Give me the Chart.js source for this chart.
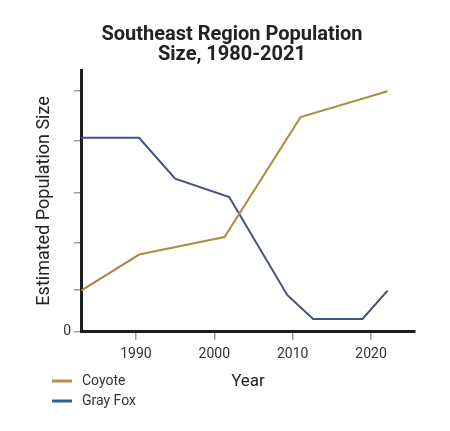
<!DOCTYPE html>
<html lang="en">
<head>
    <meta charset="UTF-8">
    <title>Southeast Region Population Size</title>
    <style>
        body {
            margin: 0;
            background: #fff;
        }
        #chart-box {
            width: 450px;
            height: 431px;
        }
    </style>
</head>
<body>
    <div id="chart-box">
        <canvas id="population-chart" width="450" height="431"></canvas>
    </div>

    <script src="https://cdn.jsdelivr.net/npm/chart.js"></script>
    <script>
        // values (y in arbitrary units, axis 0-100)
        const coyoteYears = [1983, 1990.4, 2001.3, 2011, 2022.1];
        const coyoteValues = [15.7, 29.5, 36.2, 82, 91.9];
        const foxYears = [1983, 1990.4, 1995, 2001.9, 2009.3, 2012.6, 2018.9, 2022.1];
        const foxValues = [74.1, 74.1, 58.5, 51.5, 14.1, 4.9, 4.9, 15.7];

        const xTickValues = [1990, 2000, 2010, 2020];
        const yTickValues = [0, 16, 34, 53, 73, 92];

        const seriesNames = ['Coyote', 'Gray Fox'];
        const lineColors = ['#a8913c', '#47517f'];
        const legendColors = ['#b98a4b', '#2c5e9e'];

        const toPoints = (xs, ys) => xs.map((x, i) => ({ x: x, y: ys[i] }));

        // simple stacked legend in the lower left corner
        const sideLegend = {
            id: 'sideLegend',
            afterDraw(chart) {
                const ctx = chart.ctx;
                ctx.save();
                ctx.font = '14px Roboto';
                ctx.textBaseline = 'middle';
                chart.data.datasets.forEach((ds, i) => {
                    const y = 381 + i * 20;
                    ctx.strokeStyle = legendColors[i];
                    ctx.lineWidth = 3;
                    ctx.beginPath();
                    ctx.moveTo(52, y);
                    ctx.lineTo(72, y);
                    ctx.stroke();
                    ctx.fillStyle = '#333';
                    ctx.fillText(ds.label, 82, y);
                });
                ctx.restore();
            }
        };

        const chart = new Chart(document.getElementById('population-chart'), {
            type: 'line',
            data: {
                datasets: [
                    {
                        label: seriesNames[0],
                        data: toPoints(coyoteYears, coyoteValues),
                        borderColor: lineColors[0],
                        segment: {
                            borderColor: c => c.p0DataIndex === 0 ? '#a97f3d' : undefined
                        }
                    },
                    {
                        label: seriesNames[1],
                        data: toPoints(foxYears, foxValues),
                        borderColor: lineColors[1]
                    }
                ]
            },
            options: {
                responsive: false,
                animation: false,
                devicePixelRatio: 1,
                elements: {
                    line: { borderWidth: 2, tension: 0 },
                    point: { radius: 0 }
                },
                layout: {
                    padding: { top: 25, left: 49, right: 35, bottom: 39 }
                },
                plugins: {
                    legend: { display: false },
                    tooltip: { enabled: false },
                    title: {
                        display: true,
                        text: ['Southeast Region Population', 'Size, 1980-2021'],
                        color: '#222',
                        font: { family: 'Roboto', size: 20, weight: 'bold', lineHeight: 1.0 },
                        padding: { top: 0, bottom: 5 }
                    }
                },
                scales: {
                    x: {
                        type: 'linear',
                        min: 1983,
                        max: 2025.6,
                        afterBuildTicks: s => { s.ticks = xTickValues.map(v => ({ value: v })); },
                        ticks: {
                            color: '#333',
                            font: { family: 'Roboto', size: 14 },
                            padding: 6,
                            maxRotation: 0,
                            callback: v => String(v)
                        },
                        grid: {
                            drawOnChartArea: false,
                            drawTicks: true,
                            tickLength: 8,
                            color: '#9a9a9a',
                            lineWidth: 1.5
                        },
                        border: { color: '#1e1e1e', width: 3 },
                        title: {
                            display: true,
                            text: 'Year',
                            color: '#222',
                            font: { family: 'Roboto', size: 17 },
                            padding: { top: 3, bottom: 0 }
                        }
                    },
                    y: {
                        type: 'linear',
                        min: 0,
                        max: 100,
                        afterBuildTicks: s => { s.ticks = yTickValues.map(v => ({ value: v })); },
                        ticks: {
                            color: '#333',
                            font: { family: 'Roboto', size: 14 },
                            padding: 3,
                            callback: v => (v === 0 ? '0' : '')
                        },
                        grid: {
                            drawOnChartArea: false,
                            drawTicks: true,
                            tickLength: 7,
                            color: '#9a9a9a',
                            lineWidth: 1.5
                        },
                        border: { color: '#1e1e1e', width: 3 },
                        title: {
                            display: true,
                            text: 'Estimated Population Size',
                            color: '#222',
                            font: { family: 'Roboto', size: 18 },
                            padding: { top: -15, bottom: 4.6 }
                        }
                    }
                }
            },
            plugins: [sideLegend]
        });
    </script>
</body>
</html>
